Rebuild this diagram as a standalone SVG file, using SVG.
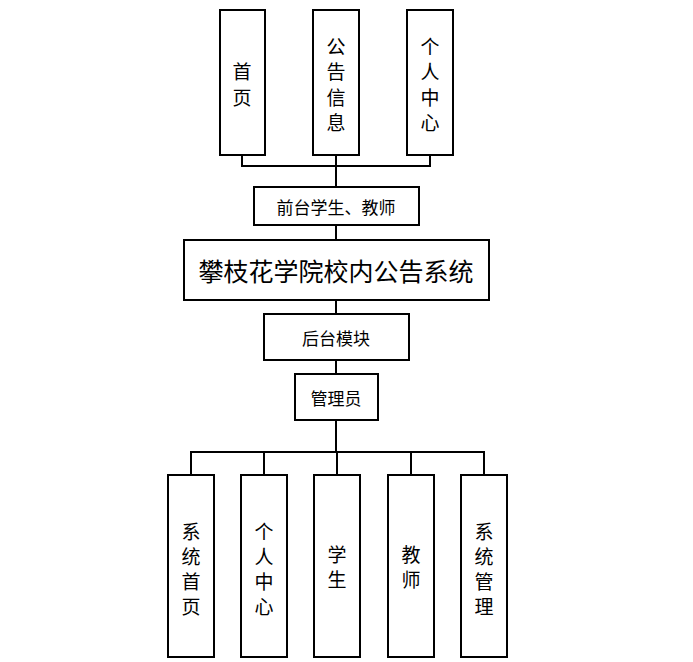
<svg xmlns="http://www.w3.org/2000/svg" width="693" height="662" viewBox="0 0 693 662">
<style>
rect{fill:#fff;stroke:#000;stroke-width:2}
text{font-family:"Noto Sans CJK SC","Noto Sans",sans-serif;font-size:19px;text-anchor:middle;dominant-baseline:central;fill:#000}
.l{fill:none;stroke:#000;stroke-width:2}
</style>
<rect width="693" height="662" style="stroke:none"/>
<g id="connectors">
<path class="l" d="M242 155V166H430V155M336 155V187M336 225V240M336 300V314M336 360V374M336 420V452M191 475V452H484V475M264 452V475M337 452V475M411 452V475"/>
</g>
<g id="n1"><rect x="220" y="10" width="45" height="145"/><text x="242" y="70">首</text><text x="242" y="96">页</text></g>
<g id="n2"><rect x="313" y="10" width="46" height="145"/><text x="336" y="45">公</text><text x="336" y="70">告</text><text x="336" y="96">信</text><text x="336" y="121">息</text></g>
<g id="n3"><rect x="407" y="10" width="46" height="145"/><text x="430" y="45">个</text><text x="430" y="70">人</text><text x="430" y="96">中</text><text x="430" y="121">心</text></g>
<g id="front"><rect x="254" y="187" width="165" height="38"/><text x="336" y="206" style="font-size:17px">前台学生、教师</text></g>
<g id="main"><rect x="184" y="240" width="305" height="60"/><text x="336" y="270" style="font-size:25px">攀枝花学院校内公告系统</text></g>
<g id="back"><rect x="264" y="314" width="145" height="46"/><text x="336" y="337" style="font-size:17px">后台模块</text></g>
<g id="admin"><rect x="295" y="374" width="83" height="46"/><text x="336" y="397" style="font-size:17px">管理员</text></g>
<g id="b1"><rect x="168" y="475" width="46" height="182"/><text x="191" y="530">系</text><text x="191" y="555">统</text><text x="191" y="580">首</text><text x="191" y="605">页</text></g>
<g id="b2"><rect x="241" y="475" width="46" height="182"/><text x="264" y="530">个</text><text x="264" y="555">人</text><text x="264" y="580">中</text><text x="264" y="605">心</text></g>
<g id="b3"><rect x="314" y="475" width="46" height="182"/><text x="337" y="553">学</text><text x="337" y="578">生</text></g>
<g id="b4"><rect x="388" y="475" width="46" height="182"/><text x="411" y="553">教</text><text x="411" y="578">师</text></g>
<g id="b5"><rect x="461" y="475" width="46" height="182"/><text x="484" y="530">系</text><text x="484" y="555">统</text><text x="484" y="580">管</text><text x="484" y="605">理</text></g>
</svg>
